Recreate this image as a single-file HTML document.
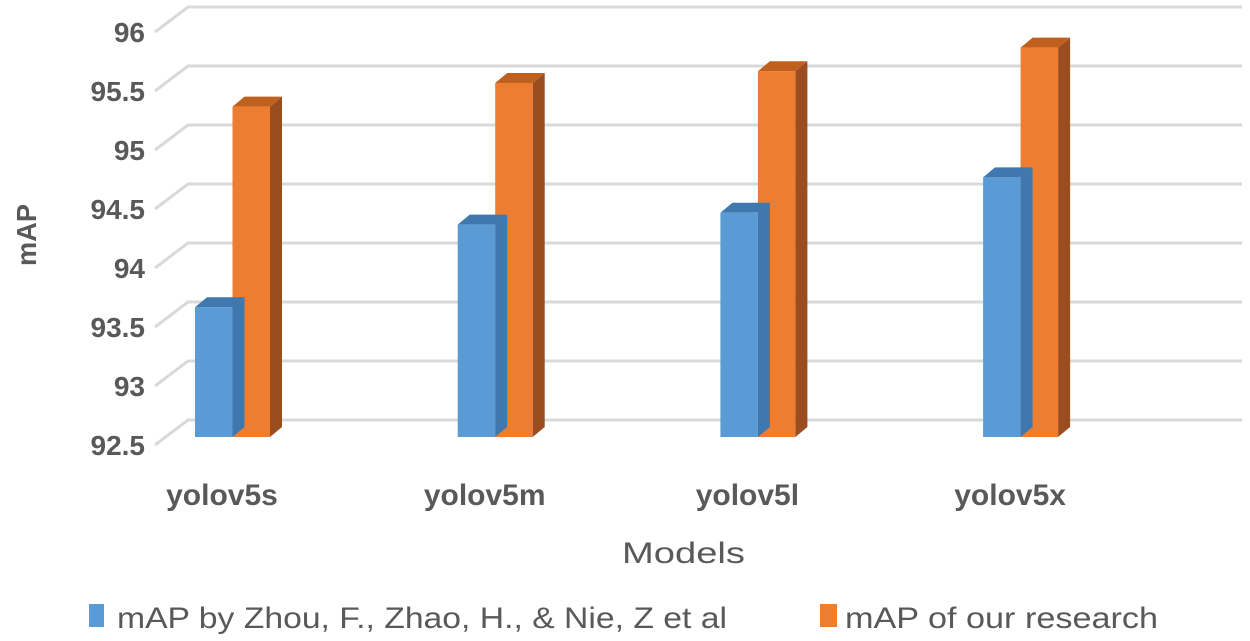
<!DOCTYPE html>
<html><head><meta charset="utf-8"><style>
html,body{margin:0;padding:0;background:#fff;width:1250px;height:641px;overflow:hidden}
svg text{font-family:"Liberation Sans",sans-serif;fill:#595959}
</style></head><body>
<svg id="chart" width="1250" height="641" viewBox="0 0 1250 641" xmlns="http://www.w3.org/2000/svg">
<g id="grid"></g>
<g id="yticks"></g>
<g id="bars"></g>
<g id="xlabels"></g>
<text x="0" y="0" transform="translate(36,235) rotate(-90)" text-anchor="middle" font-size="28" font-weight="bold" textLength="62" lengthAdjust="spacingAndGlyphs">mAP</text>
<text x="622" y="563" font-size="30" textLength="123" lengthAdjust="spacingAndGlyphs">Models</text>
<g>
<rect x="89" y="604" width="15" height="23" fill="#5b9bd5"/>
<text x="117" y="628" font-size="30" textLength="610" lengthAdjust="spacingAndGlyphs">mAP by Zhou, F., Zhao, H., &amp; Nie, Z et al</text>
<rect x="820" y="604" width="17" height="23" fill="#ed7d31"/>
<text x="845" y="628" font-size="30" textLength="313" lengthAdjust="spacingAndGlyphs">mAP of our research</text>
</g>
</svg>
<script>
const categories=["yolov5s","yolov5m","yolov5l","yolov5x"];
const seriesZhou=[93.6,94.3,94.4,94.7];
const seriesOurs=[95.3,95.5,95.6,95.8];
const yTicks=[92.5,93,93.5,94,94.5,95,95.5,96];
const yTickLabels=["92.5","93","93.5","94","94.5","95","95.5","96"];
const NS="http://www.w3.org/2000/svg";
const yMin=92.5,pxPerUnit=118;
function yBack(v){return 7+(96-v)*pxPerUnit;}
function yFront(v){return yBack(v)+25;}
function yBar(v){return 437-(v-yMin)*pxPerUnit;}
function xGroup(i){return 195+i*262.7;}
function mk(tag,attrs,parent){const e=document.createElementNS(NS,tag);for(const k in attrs)e.setAttribute(k,attrs[k]);parent.appendChild(e);return e;}
const grid=document.getElementById('grid'),yt=document.getElementById('yticks'),bars=document.getElementById('bars'),xl=document.getElementById('xlabels');
yTicks.forEach((v,i)=>{
  const y=yBack(v);
  const l=mk('polyline',{points:`155,${y+25} 188,${y} 1242,${y}`,fill:'none',stroke:'#d9d9d9','stroke-width':3},grid);
  
  
  const t=mk('text',{x:145,y:yFront(v)+10,'text-anchor':'end','font-size':28,'font-weight':'bold'},yt);
  
  
  t.textContent=yTickLabels[i];
});
function bar(x,v,front,top,side,name){
  const w=37.5,b=437,t=yBar(v),dx=12,dy=10;
  const g=mk('g',{},bars);
  
  
  mk('polygon',{points:`${x+w},${b} ${x+w+dx},${b-dy} ${x+w+dx},${t-dy} ${x+w},${t}`,fill:side},g);
  mk('polygon',{points:`${x},${t} ${x+dx},${t-dy} ${x+w+dx},${t-dy} ${x+w},${t}`,fill:top},g);
  mk('rect',{x:x,y:t,width:w,height:b-t,fill:front},g);
}
categories.forEach((c,i)=>{
  const x=xGroup(i);
  bar(x+37.5,seriesOurs[i],'#ed7d31','#c0601f','#9a4d1f','bar-ours-'+c);
  bar(x,seriesZhou[i],'#5b9bd5','#3f78ae','#3f78ae','bar-zhou-'+c);
  const t=mk('text',{x:x+27,y:505,'text-anchor':'middle','font-size':30,'font-weight':'bold'},xl);
  
  
  t.textContent=c;
});
</script>
</body></html>
